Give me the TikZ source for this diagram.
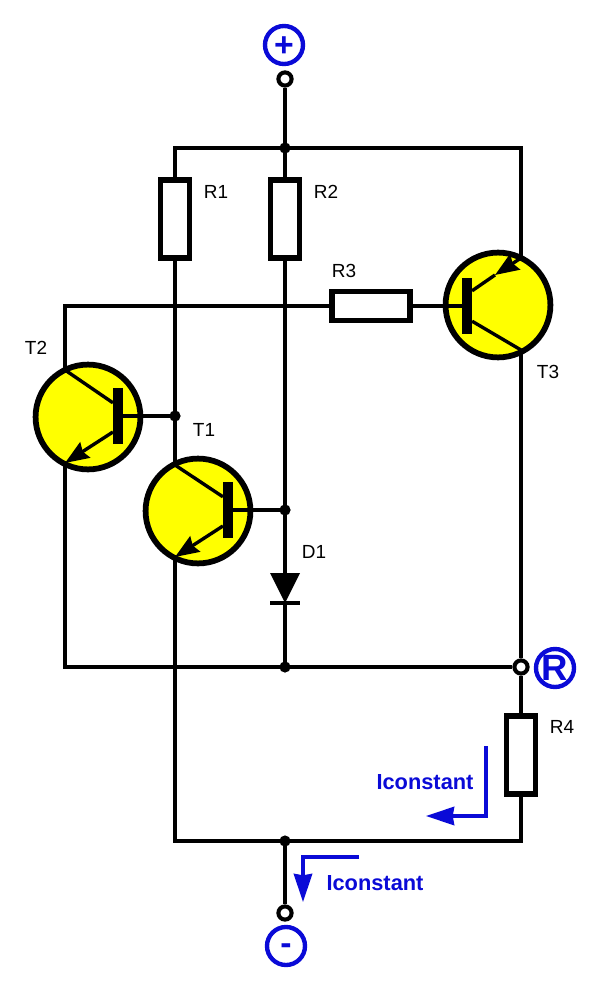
\documentclass[tikz,border=0pt]{standalone}
\usepackage{fontspec}
\setmainfont{Liberation Sans}
\usetikzlibrary{arrows.meta}
\definecolor{iblue}{RGB}{10,10,215}
\definecolor{tyellow}{RGB}{255,255,0}
\tikzset{
  wire/.style={line width=2.4pt,line join=miter},
  res/.style={draw,line width=3.6pt,fill=white,inner sep=0pt,minimum width=.73cm,minimum height=1.95cm},
  trans/.style={circle,draw,line width=4.1pt,fill=tyellow,inner sep=0pt,minimum size=2.62cm},
  tbar/.style={fill=black,inner sep=0pt,minimum width=.24cm,minimum height=1.38cm},
  term/.style={circle,draw,line width=2.9pt,fill=white,inner sep=0pt,minimum size=.33cm},
  junc/.style={circle,fill=black,inner sep=0pt,minimum size=.28cm},
  sign/.style={circle,draw=iblue,text=iblue,line width=3.1pt,inner sep=0pt,minimum size=.95cm,font=\fontsize{24}{24}\selectfont\bfseries},
  lab/.style={font=\fontsize{13.5}{14}\selectfont},
  ilab/.style={text=iblue,font=\fontsize{15.5}{16}\selectfont\bfseries},
  iarrow/.style={draw=iblue,line width=2.3pt,-{Stealth[length=20pt,width=13pt,inset=1pt]}},
  tarrow/.style={-{Stealth[length=17pt,width=13pt,inset=2pt]}}
}
\begin{document}
\begin{tikzpicture}[x=.025cm,y=-.025cm]
\useasboundingbox (0,0) rectangle (600,990);
% terminals
\node[sign] (plus) at (284,45) {\raisebox{-8pt}[0pt][0pt]{+}};
\node[sign] (minus) at (286,946) {\raisebox{-5.8pt}[0pt][0pt]{-}};
\node[sign,font=\fontsize{26}{26}\selectfont\bfseries] (rsign) at (555,668) {R};
\node[term] (tplus) at (285,79) {};
\node[term] (tr) at (521,667) {};
\node[term] (tminus) at (285,913) {};
% resistors
\node[res] (R1) at (175,219) {};
\node[res] (R2) at (285,219) {};
\node[res,rotate=90] (R3) at (371,306) {};
\node[res] (R4) at (521,755) {};
% transistors
\node[trans] (T1) at (198,511) {};
\node[trans] (T2) at (88,417) {};
\node[trans] (T3) at (498,305) {};
\node[tbar] (b1) at (228,510) {};
\node[tbar] (b2) at (118,416) {};
\node[tbar] (b3) at (467,306) {};
\coordinate (T1c) at (175,465);
\coordinate (T1e) at (175,557);
\coordinate (T2c) at (65,370);
\coordinate (T2e) at (65,463);
\coordinate (T3e) at (521,258);
\coordinate (T3c) at (521,350);
\coordinate (T3a) at (495,275);
% junctions
\node[junc] (jtop) at (285,148) {};
\node[junc] (j1) at (175,416) {};
\node[junc] (j2) at (285,510) {};
\node[junc] (j3) at (285,667) {};
\node[junc] (jbot) at (285,841) {};
% diode
\coordinate (d1a) at (285,573);
\coordinate (d1k) at (285,603);
\fill (270,573)--(300,573)--(d1k)--cycle;
\draw[wire] (270,603)--(300,603);
% wires
\draw[wire] (tplus)--(jtop.center)--(R2.north);
\draw[wire] (R1.north)|-(jtop.center);
\draw[wire] (jtop.center)-|(T3e);
\draw[wire] (R1.south)--(T1c);
\draw[wire] (R2.south)--(j2.center)--(d1a);
\draw[wire] (d1k)--(j3.center);
\draw[wire] (T3c)--(tr);
\draw[wire] (tr)--(R4.north);
\draw[wire] (R4.south)|-(jbot.center);
\draw[wire] (jbot.center)-|(T1e);
\draw[wire] (jbot.center)--(tminus);
\draw[wire] (T2e)|-(j3.center);
\draw[wire] (j3.center)--(tr);
\draw[wire] (T2c)|-(R3.north);
\draw[wire] (R3.south)--(b3);
\draw[wire] (b2)--(j1.center);
\draw[wire] (b1)--(j2.center);
% leads
\draw[wire] (T1c)--([yshift=.33cm]b1.west);
\draw[wire,tarrow] ([yshift=-.4cm]b1.west)--(T1e);
\draw[wire] (T2c)--([yshift=.33cm]b2.west);
\draw[wire,tarrow] ([yshift=-.4cm]b2.west)--(T2e);
\draw[wire,tarrow] (T3e)--(T3a);
\draw[wire] (T3a)--([yshift=.38cm]b3.east);
\draw[wire] (T3c)--([yshift=-.38cm]b3.east);
% current arrows
\coordinate (i1s) at (486,746);
\coordinate (i1e) at (426,816);
\coordinate (i2s) at (359,857);
\coordinate (i2e) at (303,902);
\draw[iarrow] (i1s)|-(i1e);
\draw[iarrow] (i2s)-|(i2e);
% labels
\node[lab] (lR1) at (216,192) {R1};
\node[lab] (lR2) at (326,192) {R2};
\node[lab] (lR3) at (344,271) {R3};
\node[lab] (lR4) at (562,727) {R4};
\node[lab] (lT1) at (204,430) {T1};
\node[lab] (lT2) at (36,348) {T2};
\node[lab] (lT3) at (548,372) {T3};
\node[lab] (lD1) at (314,552) {D1};
\node[ilab] (li1) at (425,782) {Iconstant};
\node[ilab] (li2) at (375,883) {Iconstant};
\end{tikzpicture}
\end{document}
